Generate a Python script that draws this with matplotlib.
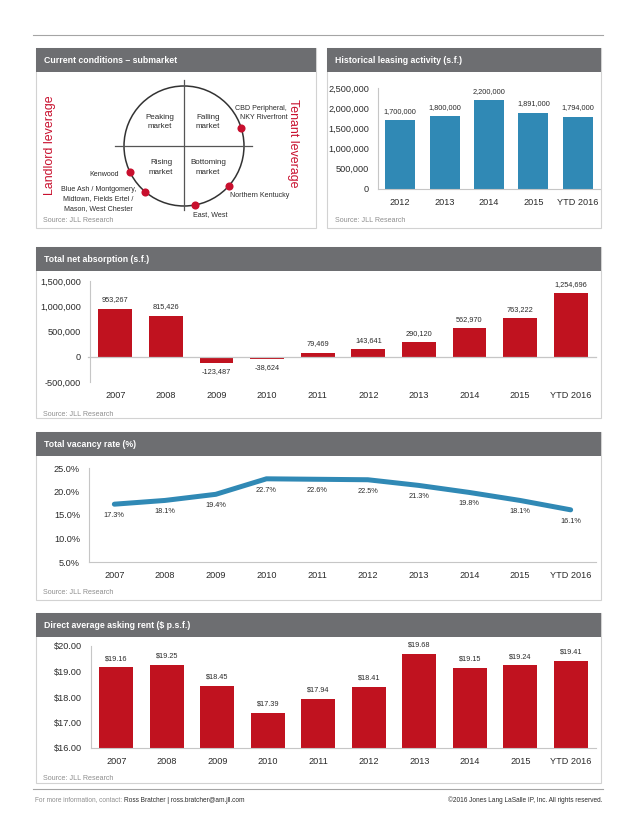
"""重绘写字楼市场概览页：周期象限、租赁量、净吸纳、空置率与租金五个面板。"""

import matplotlib

matplotlib.use("Agg")

import matplotlib.pyplot as plt
import numpy as np
from matplotlib.lines import Line2D
from matplotlib.patches import Circle, Rectangle
from matplotlib.text import Annotation
from matplotlib.ticker import FuncFormatter


FIG_W, FIG_H = 638, 826
FIG_DPI = 100
OUTPUT_PATH = "out.png"

# 窄体 Arial Narrow 不可用，用 Liberation Sans 并按宽度缩小字号
FONT_LIST = ["Liberation Sans", "DejaVu Sans"]

RED = "#C0121F"
DOT_RED = "#C8102E"
BLUE = "#3089B5"
HEADER_GRAY = "#6D6E71"
BORDER_GRAY = "#D2D2D2"
SPINE_GRAY = "#C6C6C6"
TEXT_DARK = "#2B2B2B"
SOURCE_GRAY = "#8E8E8E"

TICK_SIZE = 6.6
VALUE_SIZE = 5.3
HEADER_SIZE = 6.3
SOURCE_SIZE = 5.1

# ---- 数据 ----
SUBMARKETS = [
    "CBD Peripheral,\nNKY Riverfront",
    "Kenwood",
    "Blue Ash / Montgomery,\nMidtown, Fields Ertel /\nMason, West Chester",
    "East, West",
    "Northern Kentucky",
]
CYCLE_ANGLE_DEG = [17, 206, 230, 281, 318]
QUADRANTS = ["Peaking\nmarket", "Falling\nmarket", "Rising\nmarket", "Bottoming\nmarket"]

LEASING_YEARS = ["2012", "2013", "2014", "2015", "YTD 2016"]
LEASING_SF = [1700000, 1800000, 2200000, 1891000, 1794000]

YEARS = ["2007", "2008", "2009", "2010", "2011", "2012", "2013", "2014", "2015", "YTD 2016"]
ABSORPTION_SF = [953267, 815426, -123487, -38624, 79469, 143641, 290120, 562970, 763222, 1254696]
VACANCY_PCT = [17.3, 18.1, 19.4, 22.7, 22.6, 22.5, 21.3, 19.8, 18.1, 16.1]
ASKING_RENT = [19.16, 19.25, 18.45, 17.39, 17.94, 18.41, 19.68, 19.15, 19.24, 19.41]


def px_rect(left, top, right, bottom):
    """像素坐标（左上原点）转为 figure 比例坐标。"""
    return [left / FIG_W, 1 - bottom / FIG_H, (right - left) / FIG_W, (bottom - top) / FIG_H]


def fig_xy(x, y):
    return x / FIG_W, 1 - y / FIG_H


def draw_panel(fig, left, top, right, bottom, title, header_h=24):
    """面板外框 + 灰色标题栏。"""
    fig.add_artist(Rectangle(
        fig_xy(left, bottom), (right - left) / FIG_W, (bottom - top) / FIG_H,
        transform=fig.transFigure, fill=False, edgecolor=BORDER_GRAY, linewidth=0.8,
    ))
    fig.add_artist(Rectangle(
        fig_xy(left, top + header_h), (right - left) / FIG_W, header_h / FIG_H,
        transform=fig.transFigure, facecolor=HEADER_GRAY, edgecolor="none",
    ))
    fig.text(*fig_xy(left + 8, top + header_h / 2 + 0.5), title, color="white",
             fontsize=HEADER_SIZE, fontweight="bold", ha="left", va="center")


def add_source(fig, x, y):
    fig.text(*fig_xy(x, y), "Source: JLL Research", color=SOURCE_GRAY,
             fontsize=SOURCE_SIZE, ha="left", va="center")


def style_axes(ax, bottom_spine=True):
    ax.patch.set_alpha(0)
    for side in ["top", "right"]:
        ax.spines[side].set_visible(False)
    ax.spines["left"].set_color(SPINE_GRAY)
    ax.spines["bottom"].set_color(SPINE_GRAY)
    ax.spines["bottom"].set_visible(bottom_spine)
    ax.tick_params(axis="both", length=0, labelsize=TICK_SIZE, labelcolor=TEXT_DARK)
    ax.tick_params(axis="x", pad=6.3)
    ax.tick_params(axis="y", pad=6.5)


def label_bars(ax, x, values, fmt):
    for xi, v in zip(x, values):
        offset = 3.8 if v >= 0 else -3.8
        ax.annotate(fmt(v), (xi, v), xytext=(0, offset), textcoords="offset points",
                    ha="center", va="bottom" if v >= 0 else "top",
                    fontsize=VALUE_SIZE, color=TEXT_DARK)


def plot_cycle(fig):
    """租赁周期象限图。"""
    draw_panel(fig, 36, 48, 316, 228, "Current conditions \u2013 submarket")
    cx, cy, r = 184, 146, 60
    left, top, right, bottom = 37, 74, 315, 227
    ax = fig.add_axes(px_rect(left, top, right, bottom))
    ax.set_xlim((left - cx) / r, (right - cx) / r)
    ax.set_ylim((cy - bottom) / r, (cy - top) / r)
    ax.axis("off")

    ax.add_patch(Circle((0, 0), 1, fill=False, edgecolor="#333333", linewidth=1.1))
    ax.plot([0, 0], [-1.07, 1.1], color="#555555", linewidth=0.9)
    ax.plot([-1.15, 1.13], [0, 0], color="#555555", linewidth=0.9)

    quad_pos = [(-0.4, 0.4), (0.4, 0.4), (-0.38, -0.36), (0.4, -0.36)]
    for (qx, qy), name in zip(quad_pos, QUADRANTS):
        ax.text(qx, qy, name, ha="center", va="center", fontsize=5.8,
                color=TEXT_DARK, linespacing=1.45)

    theta = np.deg2rad(CYCLE_ANGLE_DEG)
    ax.scatter(np.cos(theta), np.sin(theta), s=34, color=DOT_RED, zorder=3, linewidths=0)

    label_spec = [
        ((1.72, 0.55), "right"),
        ((-1.08, -0.47), "right"),
        ((-1.43, -0.88), "center"),
        ((0.43, -1.15), "center"),
        ((0.77, -0.83), "left"),
    ]
    for ((tx, ty), ha), name in zip(label_spec, SUBMARKETS):
        ax.text(tx, ty, name, ha=ha, va="center", fontsize=5.1, color=TEXT_DARK,
                linespacing=1.45, multialignment="center" if ha == "center" else ha)

    ax.text(-2.23, 0.02, "Landlord leverage", rotation=90, ha="center", va="center",
            fontsize=8.9, color=DOT_RED)
    ax.text(1.82, 0.05, "Tenant leverage", rotation=270, ha="center", va="center",
            fontsize=8.9, color=DOT_RED)
    add_source(fig, 43, 221)


def plot_leasing(fig):
    draw_panel(fig, 327, 48, 601, 228, "Historical leasing activity (s.f.)")
    ax = fig.add_axes(px_rect(378, 88, 600, 189))
    x = np.arange(len(LEASING_YEARS))
    ax.bar(x, LEASING_SF, width=0.68, color=BLUE)
    ax.set_xlim(-0.5, len(x) - 0.5)
    ax.set_ylim(0, 2500000)
    ax.set_yticks(np.arange(0, 2500001, 500000))
    ax.yaxis.set_major_formatter(FuncFormatter(lambda v, _: f"{v:,.0f}"))
    ax.set_xticks(x, LEASING_YEARS)
    style_axes(ax)
    label_bars(ax, x, LEASING_SF, lambda v: f"{v:,.0f}")
    add_source(fig, 335, 220)


def plot_absorption(fig):
    draw_panel(fig, 36, 247, 601, 418, "Total net absorption (s.f.)")
    ax = fig.add_axes(px_rect(90, 281, 596, 382))
    x = np.arange(len(YEARS))
    ax.bar(x, ABSORPTION_SF, width=0.67, color=RED)
    ax.axhline(0, color=SPINE_GRAY, linewidth=0.9, xmin=-0.004, clip_on=False)
    ax.set_xlim(-0.5, len(x) - 0.5)
    ax.set_ylim(-500000, 1500000)
    ax.set_yticks(np.arange(-500000, 1500001, 500000))
    ax.yaxis.set_major_formatter(FuncFormatter(lambda v, _: f"{v:,.0f}"))
    ax.set_xticks(x, YEARS)
    style_axes(ax, bottom_spine=False)
    label_bars(ax, x, ABSORPTION_SF, lambda v: f"{v:,.0f}")
    add_source(fig, 43, 414)


def plot_vacancy(fig):
    draw_panel(fig, 36, 432, 601, 600, "Total vacancy rate (%)")
    ax = fig.add_axes(px_rect(89, 468, 596, 562))
    x = np.arange(len(YEARS))
    ax.plot(x, VACANCY_PCT, color=BLUE, linewidth=3.6, solid_capstyle="round",
            solid_joinstyle="round")
    for xi, v in zip(x, VACANCY_PCT):
        ax.annotate(f"{v:.1f}%", (xi, v), xytext=(0, -5.8), textcoords="offset points",
                    ha="center", va="top", fontsize=VALUE_SIZE, color=TEXT_DARK)
    ax.set_xlim(-0.5, len(x) - 0.5)
    ax.set_ylim(5, 25)
    ax.set_yticks(np.arange(5, 25.1, 5))
    ax.yaxis.set_major_formatter(FuncFormatter(lambda v, _: f"{v:.1f}%"))
    ax.set_xticks(x, YEARS)
    style_axes(ax)
    add_source(fig, 43, 593)


def plot_rent(fig):
    draw_panel(fig, 36, 613, 601, 783, "Direct average asking rent ($ p.s.f.)")
    ax = fig.add_axes(px_rect(91, 646, 596, 748))
    x = np.arange(len(YEARS))
    ax.bar(x, ASKING_RENT, width=0.67, color=RED)
    ax.set_xlim(-0.5, len(x) - 0.5)
    ax.set_ylim(16, 20)
    ax.set_yticks(np.arange(16, 20.1, 1))
    ax.yaxis.set_major_formatter(FuncFormatter(lambda v, _: f"${v:.2f}"))
    ax.set_xticks(x, YEARS)
    style_axes(ax)
    label_bars(ax, x, ASKING_RENT, lambda v: f"${v:.2f}")
    add_source(fig, 43, 779)


def draw_page_frame(fig):
    for y in (35, 789):
        fig.add_artist(Line2D([33 / FIG_W, 603 / FIG_W], [1 - y / FIG_H] * 2,
                              transform=fig.transFigure, color="#A5A5A5", linewidth=0.8))
    lead = fig.text(*fig_xy(35, 800), "For more information, contact: ", color=SOURCE_GRAY,
                    fontsize=4.7, ha="left", va="center")
    fig.add_artist(Annotation("Ross Bratcher | ross.bratcher@am.jll.com", xy=(1, 0.5),
                              xycoords=lead, ha="left", va="center", fontsize=4.7,
                              color=TEXT_DARK))
    fig.text(*fig_xy(603, 800), "\u00a92016 Jones Lang LaSalle IP, Inc. All rights reserved.",
             color=TEXT_DARK, fontsize=4.7, ha="right", va="center")


def main():
    plt.rcParams["font.family"] = FONT_LIST
    fig = plt.figure(figsize=(FIG_W / FIG_DPI, FIG_H / FIG_DPI), dpi=FIG_DPI)
    fig.patch.set_facecolor("white")

    draw_page_frame(fig)
    plot_cycle(fig)
    plot_leasing(fig)
    plot_absorption(fig)
    plot_vacancy(fig)
    plot_rent(fig)

    fig.savefig(OUTPUT_PATH, dpi=FIG_DPI)
    plt.close(fig)


if __name__ == "__main__":
    main()
